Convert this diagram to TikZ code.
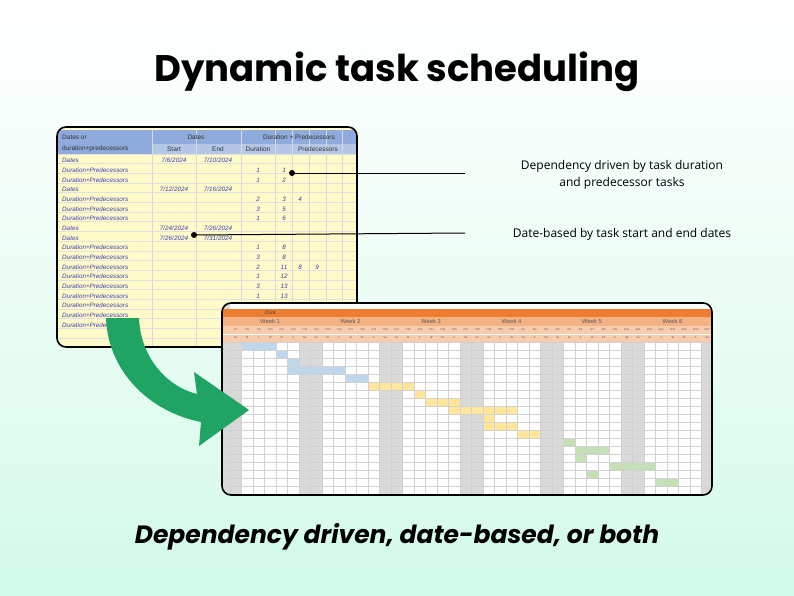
\documentclass[tikz,border=0pt]{standalone}
\usepackage{fontspec}
\setmainfont{Open Sans}
\newfontfamily\titlefont{Poppins}
\newfontfamily\cellfont{Liberation Sans}
\usetikzlibrary{positioning}
\definecolor{bgmint}{HTML}{D2FAE8}
\definecolor{hdrblue}{HTML}{8FAADC}
\definecolor{hdrlight}{HTML}{B4C7E7}
\definecolor{cellyellow}{HTML}{FFFBC8}
\definecolor{celltext}{HTML}{3A3AB8}
\definecolor{ganttorange}{HTML}{ED7D31}
\definecolor{weekorange}{HTML}{F4B183}
\definecolor{dayorange}{HTML}{F8CBAD}
\definecolor{barblue}{HTML}{BDD7EE}
\definecolor{baryellow}{HTML}{FFE699}
\definecolor{bargreen}{HTML}{C5E0B4}
\definecolor{wkgrey}{HTML}{D9D9D9}
\definecolor{arrowgreen}{HTML}{1FA463}
\tikzset{
  card/.style={draw=black, line width=1.6pt, rounded corners=9pt},
  cell/.style={font=\cellfont\itshape\fontsize{6.3}{7}\selectfont, text=celltext, inner sep=0pt},
  head/.style={font=\cellfont\fontsize{6.5}{7}\selectfont, text=black!80, inner sep=0pt},
  tiny/.style={font=\cellfont\fontsize{2.6}{3}\selectfont, text=black!70, inner sep=0pt},
  callout/.style={font=\fontsize{12}{17}\selectfont, align=center},
  dot/.style={circle, fill=black, inner sep=0pt, minimum size=6pt},
}
\begin{document}
\begin{tikzpicture}[x=1pt, y=-1pt]
  \useasboundingbox (0,0) rectangle (794,596);
  \shade[top color=white, bottom color=bgmint, middle color=white!55!bgmint] (0,0) rectangle (794,596);

  % Title
  \node[font=\titlefont\bfseries\fontsize{37}{40}\selectfont] (title) at (397,72) {Dynamic task scheduling};

  % Spreadsheet
  \begin{scope}
    \clip[rounded corners=9pt] (57,127) rectangle (357,347);
    \fill[cellyellow] (57,127) rectangle (357,347);
    \fill[hdrblue] (57,130) rectangle (357,144);
    \fill[hdrblue] (57,144) rectangle (152,154);
    \fill[hdrlight] (152,144) rectangle (357,154);
    \foreach \x in {152,196,241,275,292,309,326,342}
      \draw[black!15] (\x,130) -- (\x,347);
    \foreach \i in {0,...,20}
      \draw[black!12] (57,154+9.67*\i) -- (357,154+9.67*\i);
    \node[head, anchor=west] (h1) at (62,137) {Dates or};
    \node[head, anchor=west] (h2) at (62,149) {duration+predecessors};
    \node[head] (h3) at (196,137) {Dates};
    \node[head] (h4) at (299,137) {Duration + Predecessors};
    \node[head] (h5) at (174,149) {Start};
    \node[head] (h6) at (218,149) {End};
    \node[head] (h7) at (258,149) {Duration};
    \node[head] (h8) at (318,149) {Predecessors};
    \foreach \r/\a/\s/\e/\d/\p/\q/\w in {
        1/Dates/7\slash6\slash2024/7\slash10\slash2024////,
        2/Duration+Predecessors///1/1//,
        3/Duration+Predecessors///1/2//,
        4/Dates/7\slash12\slash2024/7\slash16\slash2024////,
        5/Duration+Predecessors///2/3/4/,
        6/Duration+Predecessors///3/5//,
        7/Duration+Predecessors///1/6//,
        8/Dates/7\slash24\slash2024/7\slash26\slash2024////,
        9/Dates/7\slash26\slash2024/7\slash31\slash2024////,
        10/Duration+Predecessors///1/8//,
        11/Duration+Predecessors///3/8//,
        12/Duration+Predecessors///2/11/8/9,
        13/Duration+Predecessors///1/12//,
        14/Duration+Predecessors///3/13//,
        15/Duration+Predecessors///1/13//,
        16/Duration+Predecessors///2/14//,
        17/Duration+Predecessors//////,
        18/Duration+Predecessors//////} {
      \pgfmathsetmacro\yy{151+9.67*\r}
      \node[cell, anchor=west] (t-\r) at (62,\yy) {\a};
      \node[cell] (s-\r) at (174,\yy) {\s};
      \node[cell] (e-\r) at (218,\yy) {\e};
      \node[cell] (d-\r) at (258,\yy) {\d};
      \node[cell] (p-\r) at (284,\yy) {\p};
      \node[cell] (q-\r) at (300,\yy) {\q};
      \node[cell] (w-\r) at (317,\yy) {\w};
    }
  \end{scope}
  \draw[card] (57,127) rectangle (357,347);

  % Callouts
  \coordinate (dep) at (292,173);
  \coordinate (dat) at (194,235);
  \coordinate (depend) at (465,173);
  \coordinate (datend) at (465,233);
  \node[callout] (deptext) at (622,175) {Dependency driven by task duration\\and predecessor tasks};
  \node[callout] (dattext) at (622,234) {Date-based by task start and end dates};
  \draw[line width=1pt] (dep) -- (depend);
  \draw[line width=1pt] (dat) -- (datend);
  \node[dot] at (dep) {};
  \node[dot] at (dat) {};

  % Gantt chart
  \begin{scope}
    \clip[rounded corners=9pt] (222,303) rectangle (712,495);
    \fill[white] (222,303) rectangle (712,495);
    \fill[wkgrey] (222,303) rectangle (230,495);
    \foreach \i in {0,6,7,13,14,20,21,27,28,34,35,41}
      \fill[wkgrey] (230+11.5*\i,342) rectangle ++(11.5,153);
    % bars: row/first column/last column/colour
    \foreach \r/\a/\b/\c in {0/1/3/barblue, 1/4/4/barblue, 2/5/5/barblue, 3/5/9/barblue,
        4/10/11/barblue, 5/12/15/baryellow, 6/16/16/baryellow, 7/17/19/baryellow,
        8/19/24/baryellow, 9/22/22/baryellow, 10/22/24/baryellow, 11/25/26/baryellow,
        12/29/29/bargreen, 13/30/32/bargreen, 14/30/30/bargreen, 15/33/36/bargreen,
        16/31/31/bargreen, 17/37/38/bargreen}
      \fill[\c] (230+11.5*\a,342+8*\r) rectangle (241.5+11.5*\b,350+8*\r);
    \foreach \i in {0,...,42}
      \draw[black!18, line width=0.4pt] (230+11.5*\i,317) -- (230+11.5*\i,495);
    \foreach \r in {0,...,19}
      \draw[black!18, line width=0.4pt] (222,342+8*\r) -- (712,342+8*\r);
    \fill[ganttorange] (222,309) rectangle (712,317);
    \fill[weekorange] (222,317) rectangle (712,326);
    \fill[dayorange] (222,326) rectangle (712,342);
    \draw[white, line width=0.4pt] (222,334) -- (712,334);
    \node[head, font=\cellfont\fontsize{5}{6}\selectfont, text=black!75] (year) at (270,313) {2024};
    \foreach \k in {1,...,6}
      \node[head, font=\cellfont\fontsize{5.8}{6}\selectfont, text=black!65] (wk-\k) at (270+80.5*\k-80.5,321.5) {Week \k};
    \foreach \i in {0,...,41} {
      \pgfmathtruncatemacro\dnum{7+\i}
      \pgfmathtruncatemacro\anum{\i-24}
      \pgfmathtruncatemacro\wdy{mod(\i,7)}
      \ifnum\dnum>31 \def\dlab{8/\anum}\else\def\dlab{7/\dnum}\fi
      \node[tiny] (dt-\i) at (235.75+11.5*\i,330) {\dlab};
      \node[tiny] (dy-\i) at (235.75+11.5*\i,338)
        {\ifcase\wdy Su\or M\or T\or W\or Th\or F\or Sa\fi};
    }
  \end{scope}
  \draw[card] (222,303) rectangle (712,495);

  % Green arrow
  \fill[arrowgreen] (106,318) .. controls (108,372) and (150,412) .. (201,422)
    -- (199,446) -- (249,410) -- (194,372) -- (197,394)
    .. controls (162,385) and (140,352) .. (139,318) -- cycle;

  % Bottom line
  \node[font=\titlefont\bfseries\itshape\fontsize{25}{28}\selectfont] (tagline) at (397,537) {Dependency driven, date-based, or both};
\end{tikzpicture}
\end{document}
